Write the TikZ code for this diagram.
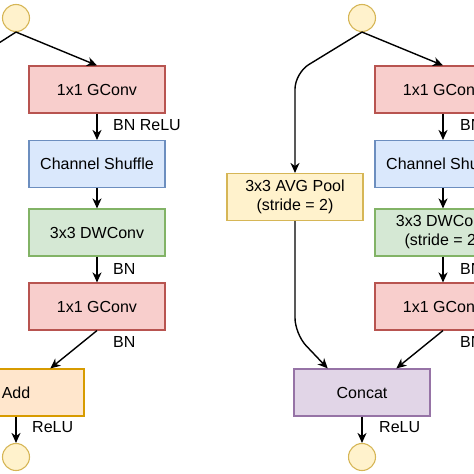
\documentclass[tikz,border=0pt]{standalone}
\usepackage{fontspec}
\setmainfont{Liberation Sans}
\usetikzlibrary{arrows.meta,calc}
\definecolor{redF}{HTML}{F8CECC}\definecolor{redD}{HTML}{B85450}
\definecolor{bluF}{HTML}{DAE8FC}\definecolor{bluD}{HTML}{6C8EBF}
\definecolor{grnF}{HTML}{D5E8D4}\definecolor{grnD}{HTML}{82B366}
\definecolor{yelF}{HTML}{FFF2CC}\definecolor{yelD}{HTML}{D6B656}
\definecolor{orgF}{HTML}{FFE6CC}\definecolor{orgD}{HTML}{D79B00}
\definecolor{purF}{HTML}{E1D5E7}\definecolor{purD}{HTML}{9673A6}
\tikzset{
  box/.style={draw, line width=1.1pt, minimum width=136pt, minimum height=47pt, inner sep=0pt, align=center, font=\fontsize{16}{19}\selectfont},
  gconv/.style={box, fill=redF, draw=redD},
  shuf/.style={box, fill=bluF, draw=bluD},
  dwc/.style={box, fill=grnF, draw=grnD},
  pool/.style={box, fill=yelF, draw=yelD},
  addb/.style={box, fill=orgF, draw=orgD},
  cat/.style={box, fill=purF, draw=purD},
  io/.style={circle, draw=yelD, fill=yelF, line width=1.1pt, minimum size=27pt, inner sep=0pt},
  conn/.style={line width=1.4pt, -{Stealth[length=10pt,width=9pt,inset=3pt]}},
  plain/.style={line width=1.4pt},
  lbl/.style={anchor=west, inner sep=0pt, font=\fontsize{16}{19}\selectfont}
}
\begin{document}
\begin{tikzpicture}[x=1pt,y=-1pt]
\useasboundingbox (0,0) rectangle (474,474);
\clip (0,0) rectangle (474,474);
% left unit
\node[io] (inL) at (16,18) {};
\node[gconv] (g1L) at (97,89.5) {1x1 GConv};
\node[shuf] (csL) at (97,164) {Channel Shuffle};
\node[dwc] (dwL) at (97,232.5) {3x3 DWConv};
\node[gconv] (g2L) at (97,306.5) {1x1 GConv};
\node[addb] (addL) at (16,392.5) {Add};
\node[io] (outL) at (16,457) {};
\coordinate (scL) at (-51,75);
\draw[plain] (inL.south) -- (scL);
\draw[conn] (inL.south) -- (g1L.north);
\draw[conn] (g1L) -- (csL);
\draw[conn] (csL) -- (dwL);
\draw[conn] (dwL) -- (g2L);
\draw[conn] (g2L.south) -- ($(addL.north west)!0.75!(addL.north east)$);
\draw[conn] (addL) -- (outL);
\node[lbl] (l1L) at (113,125) {BN ReLU};
\node[lbl] (l2L) at (113,269) {BN};
\node[lbl] (l3L) at (113,342) {BN};
\node[lbl] (l4L) at (32,427) {ReLU};
% right unit
\node[io] (inR) at (362,18) {};
\node[gconv] (g1R) at (443,89.5) {1x1 GConv};
\node[shuf] (csR) at (443,164) {Channel Shuffle};
\node[dwc] (dwR) at (443,232.5) {3x3 DWConv\\(stride = 2)};
\node[gconv] (g2R) at (443,306.5) {1x1 GConv};
\node[pool] (poolR) at (295,197) {3x3 AVG Pool\\(stride = 2)};
\node[cat] (catR) at (362,392.5) {Concat};
\node[io] (outR) at (362,457) {};
\draw[conn, rounded corners=16pt] (inR.south) -- (295,73) -- (poolR.north);
\draw[conn, rounded corners=16pt] (poolR.south) -- (295,334) -- ($(catR.north west)!0.25!(catR.north east)$);
\draw[conn] (inR.south) -- (g1R.north);
\draw[conn] (g1R) -- (csR);
\draw[conn] (csR) -- (dwR);
\draw[conn] (dwR) -- (g2R);
\draw[conn] (g2R.south) -- ($(catR.north west)!0.75!(catR.north east)$);
\draw[conn] (catR) -- (outR);
\node[lbl] (l1R) at (460,125) {BN ReLU};
\node[lbl] (l2R) at (460,269) {BN};
\node[lbl] (l3R) at (460,342) {BN};
\node[lbl] (l4R) at (379,427) {ReLU};
\end{tikzpicture}
\end{document}
